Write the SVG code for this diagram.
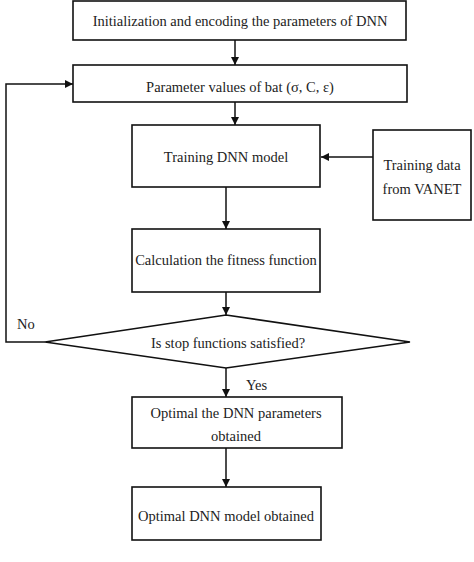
<svg xmlns="http://www.w3.org/2000/svg" width="474" height="562" viewBox="0 0 474 562">
<defs>
<marker id="ah" markerWidth="10" markerHeight="10" refX="9" refY="5" orient="auto" markerUnits="userSpaceOnUse">
<path d="M1,1 L9,5 L1,9 Z" fill="#111"/>
</marker>
<style>
.box{fill:#fff;stroke:#111;stroke-width:1.6}
.t{font-family:"Liberation Serif","DejaVu Serif",serif;font-size:14.5px;fill:#222;text-anchor:middle}
.l{font-family:"Liberation Serif","DejaVu Serif",serif;font-size:14.5px;fill:#222}
.c{fill:none;stroke:#111;stroke-width:1.5}
</style>
</defs>
<rect width="474" height="562" fill="#fff"/>
<g id="connectors">
<line class="c" x1="235" y1="40" x2="235" y2="65" marker-end="url(#ah)"/>
<line class="c" x1="235" y1="102" x2="235" y2="125" marker-end="url(#ah)"/>
<line class="c" x1="373" y1="157" x2="321" y2="157" marker-end="url(#ah)"/>
<line class="c" x1="226" y1="187" x2="226" y2="229" marker-end="url(#ah)"/>
<line class="c" x1="226" y1="292" x2="226" y2="315" marker-end="url(#ah)"/>
<line class="c" x1="226" y1="368" x2="226" y2="397" marker-end="url(#ah)"/>
<line class="c" x1="226" y1="448" x2="226" y2="487" marker-end="url(#ah)"/>
<polyline class="c" points="45,342 6,342 6,84 73,84" marker-end="url(#ah)"/>
<text class="l" x="17" y="329">No</text>
<text class="l" x="246" y="390">Yes</text>
</g>
<g id="init">
<rect class="box" x="73" y="1" width="333" height="39"/>
<text class="t" x="240" y="26">Initialization and encoding the parameters of DNN</text>
</g>
<g id="params">
<rect class="box" x="73" y="65" width="334" height="37"/>
<text class="t" x="240" y="92">Parameter values of bat (σ, C, ε)</text>
</g>
<g id="train">
<rect class="box" x="132" y="125" width="188" height="62"/>
<text class="t" x="226" y="162">Training DNN model</text>
</g>
<g id="data">
<rect class="box" x="373" y="130" width="98" height="90"/>
<text class="t" x="422" y="170">Training data</text>
<text class="t" x="422" y="194">from VANET</text>
</g>
<g id="fitness">
<rect class="box" x="132" y="229" width="188" height="63"/>
<text class="t" x="226" y="265">Calculation the fitness function</text>
</g>
<g id="stop">
<polygon class="box" points="226,315 410,342 226,368 45,342"/>
<text class="t" x="228" y="348">Is stop functions satisfied?</text>
</g>
<g id="optparams">
<rect class="box" x="132" y="397" width="210" height="51"/>
<text class="t" x="236" y="418">Optimal the DNN parameters</text>
<text class="t" x="236" y="441">obtained</text>
</g>
<g id="optmodel">
<rect class="box" x="132" y="487" width="189" height="53"/>
<text class="t" x="226" y="521">Optimal DNN model obtained</text>
</g>
</svg>
